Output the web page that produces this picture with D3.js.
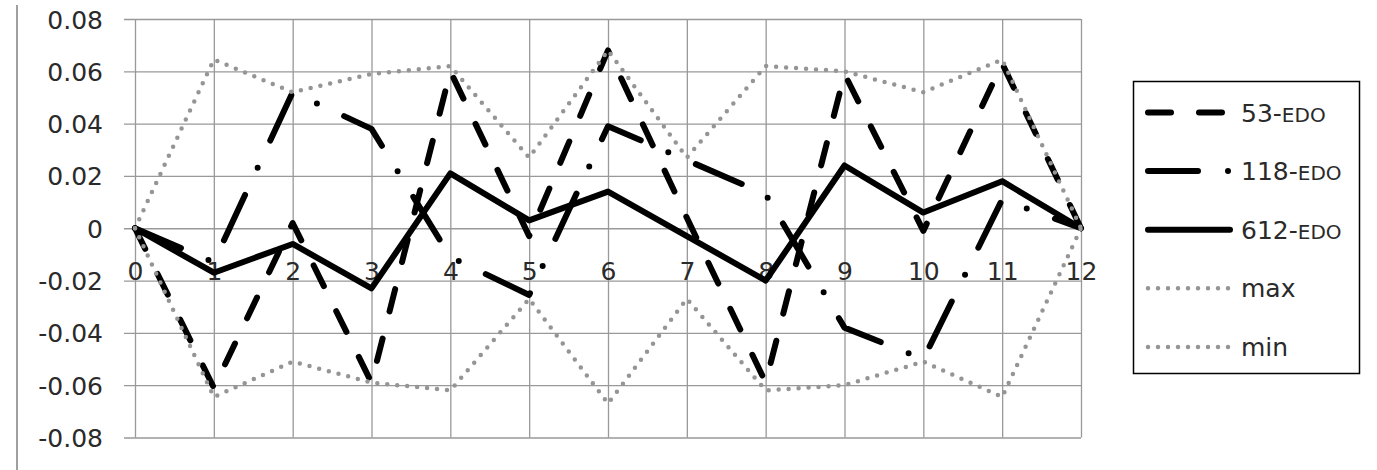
<!DOCTYPE html>
<html>
<head>
<meta charset="utf-8">
<script src="https://cdn.jsdelivr.net/npm/d3@7"></script>
<style>
    body { margin: 0; background: #fff; }
    text { font-family: "DejaVu Sans", sans-serif; fill: #2a2a2a; }
</style>
</head>
<body>
<svg id="chart" width="1377" height="470"></svg>
<script>
// scale degrees, 0..12
const steps = [0, 1, 2, 3, 4, 5, 6, 7, 8, 9, 10, 11, 12];

// deviation of each tuning
const edo53 = [0, -0.061, 0.002, -0.059, 0.060, -0.003, 0.068, 0.004, -0.059, 0.059, -0.001, 0.063, 0];
const edo118 = [0, -0.013, 0.052, 0.038, -0.011, -0.0255, 0.039, 0.026, 0.013, -0.038, -0.050, 0.011, 0];
const edo612 = [0, -0.017, -0.006, -0.023, 0.021, 0.003, 0.014, -0.003, -0.020, 0.024, 0.006, 0.018, 0];
const maxDev = [0, 0.0645, 0.052, 0.059, 0.062, 0.027, 0.068, 0.027, 0.062, 0.060, 0.052, 0.0645, 0];
const minDev = [0, -0.0645, -0.051, -0.059, -0.062, -0.027, -0.067, -0.027, -0.062, -0.060, -0.051, -0.0645, 0];

const yTicks = [-0.08, -0.06, -0.04, -0.02, 0, 0.02, 0.04, 0.06, 0.08];

const svg = d3.select("#chart");

const plotLeft = 135, plotRight = 1081, plotTop = 19, plotBottom = 437.5;
const x = d3.scaleLinear().domain([0, 12]).range([plotLeft, plotRight]);
const y = d3.scaleLinear().domain([-0.08, 0.08]).range([plotBottom, plotTop]);

const gridColor = "#999";

// stray frame edge on the left
svg.append("line")
    .attr("x1", 17).attr("x2", 17)
    .attr("y1", 5).attr("y2", 470)
    .attr("stroke", "#a0a0a0")
    .attr("stroke-width", 2);

// horizontal grid + y labels (plain hyphen, like the original)
const yAxis = svg.append("g")
    .attr("transform", `translate(124,0)`)
    .call(d3.axisLeft(y)
        .tickValues(yTicks)
        .tickSize(-(plotRight - 124))
        .tickPadding(21)
        .tickFormat(d => d === 0 ? "0" : d3.format(".2f")(d).replace("\u2212", "-")));
yAxis.select(".domain").remove();
yAxis.selectAll("line").attr("stroke", gridColor).attr("stroke-width", 1.3);
yAxis.selectAll("text").attr("font-size", 25).attr("dy", "0.36em");

// vertical grid
const xGrid = svg.append("g")
    .attr("transform", `translate(0,${plotBottom})`)
    .call(d3.axisBottom(x).tickValues(steps).tickSize(-(plotBottom - plotTop)).tickFormat(""));
xGrid.select(".domain").remove();
xGrid.selectAll("line").attr("stroke", gridColor).attr("stroke-width", 1.3);

// x labels sit just under the zero line
const xLabels = svg.append("g")
    .attr("transform", `translate(0,271)`)
    .call(d3.axisBottom(x).tickValues(steps).tickSize(0).tickFormat(d3.format("d")));
xLabels.select(".domain").remove();
xLabels.selectAll("text").attr("font-size", 25).attr("y", 0).attr("dy", "0.36em");

const series = [
    {name: "53-", values: edo53, color: "#000", width: 6, dash: "23,28"},
    {name: "118-", values: edo118, color: "#000", width: 6, dash: "50,30,0,30"},
    {name: "612-", values: edo612, color: "#000", width: 6, dash: null},
    {name: "max", values: maxDev, color: "#959595", width: 4.5, dash: "0,10"},
    {name: "min", values: minDev, color: "#959595", width: 4.5, dash: "0,10"}
];

const line = d3.line()
    .x((d, i) => x(steps[i]))
    .y(d => y(d));

svg.append("g")
    .selectAll("path")
    .data(series)
    .enter()
    .append("path")
    .attr("d", d => line(d.values))
    .attr("fill", "none")
    .attr("stroke", d => d.color)
    .attr("stroke-width", d => d.width)
    .attr("stroke-linecap", "round")
    .attr("stroke-linejoin", "round")
    .attr("stroke-dasharray", d => d.dash);

// legend
const legend = svg.append("g");
legend.append("rect")
    .attr("x", 1133.5).attr("y", 81.5)
    .attr("width", 226).attr("height", 292)
    .attr("fill", "#fff")
    .attr("stroke", "#000")
    .attr("stroke-width", 1.5);

const rows = legend.selectAll("g.row")
    .data(series)
    .enter()
    .append("g")
    .attr("class", "row")
    .attr("transform", (d, i) => `translate(0,${112.5 + i * 58.6})`);

rows.append("line")
    .attr("x1", 1148).attr("x2", 1230)
    .attr("y1", 0).attr("y2", 0)
    .attr("stroke", d => d.color)
    .attr("stroke-width", d => d.width)
    .attr("stroke-linecap", "round")
    .attr("stroke-dasharray", d => d.dash);

const labels = rows.append("text")
    .attr("x", 1241)
    .attr("y", 9)
    .attr("font-size", 25);
labels.append("tspan").text(d => d.name);
labels.filter(d => d.name.endsWith("-"))
    .append("tspan")
    .attr("font-size", 20)
    .text("EDO");
</script>
</body>
</html>
